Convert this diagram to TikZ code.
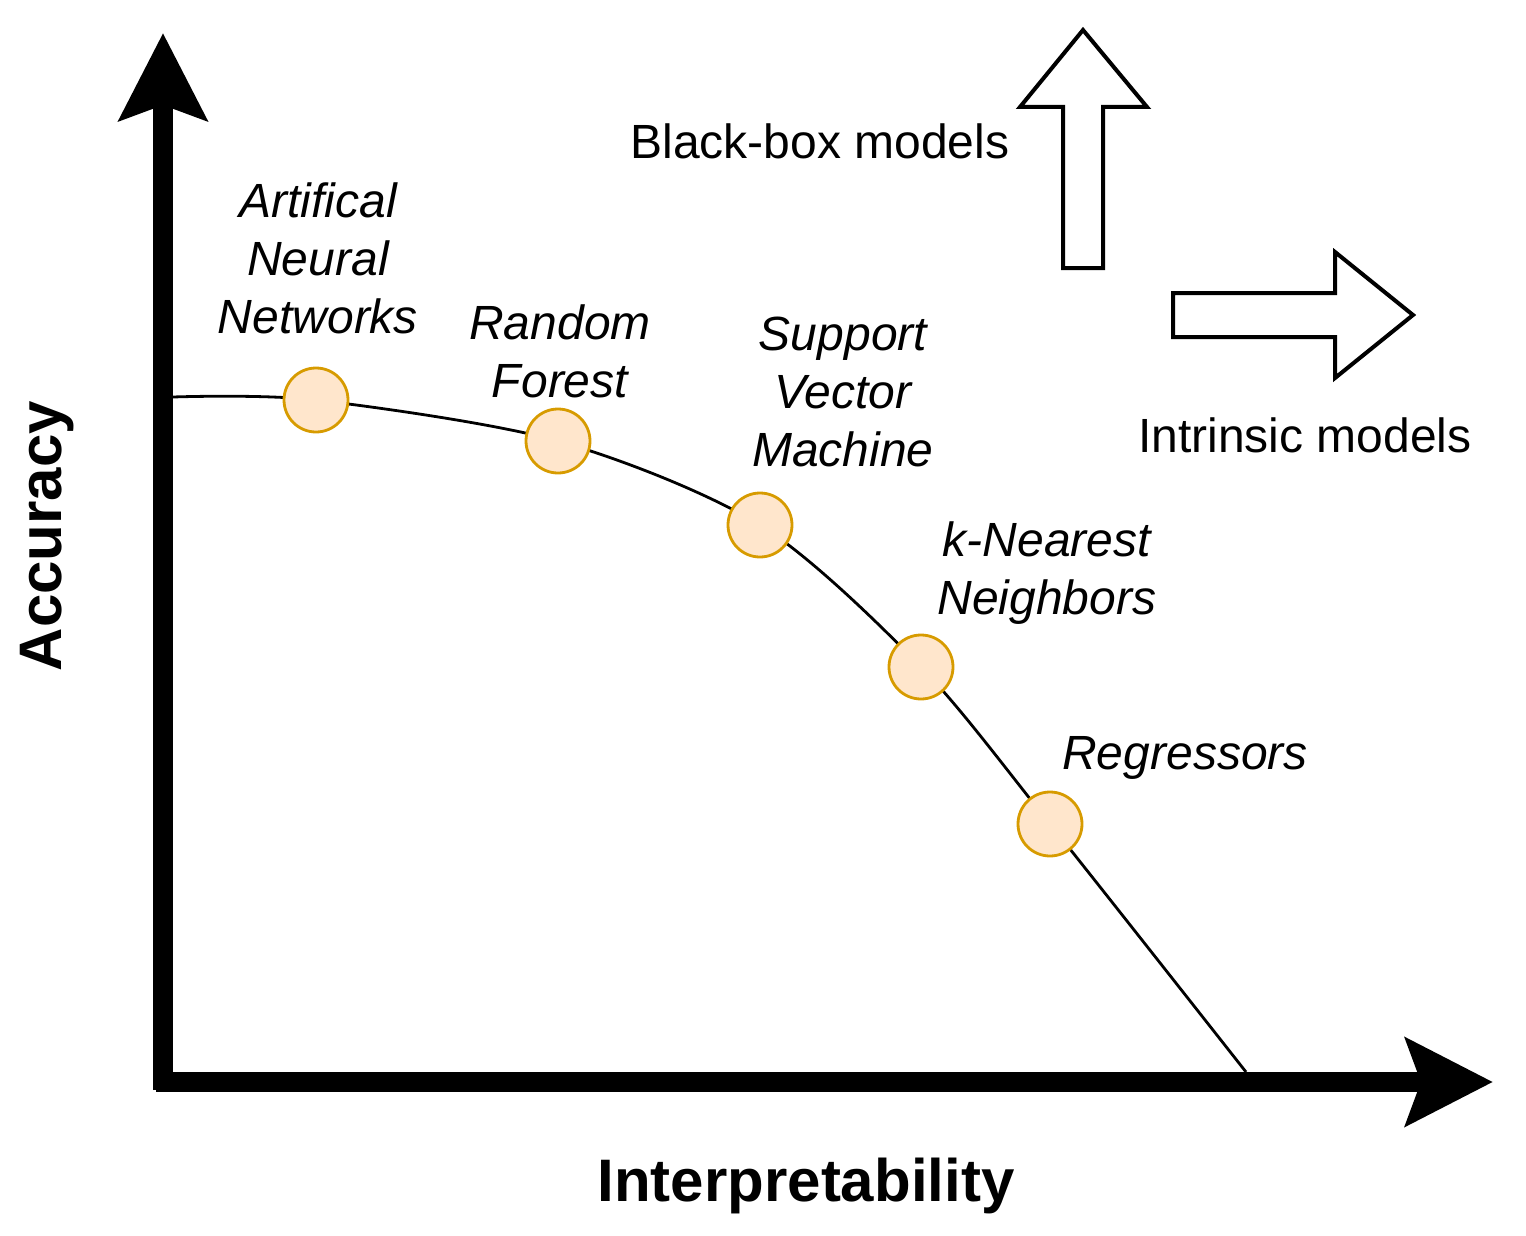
\documentclass[tikz,border=0pt]{standalone}
\usepackage{fontspec}
\setmainfont{Liberation Sans}
\usetikzlibrary{arrows.meta}
\definecolor{dotfill}{HTML}{FFE6CC}
\definecolor{dotline}{HTML}{D79B00}
\begin{document}
\begin{tikzpicture}[x=0.5pt,y=-0.5pt,
  axis/.style={line width=10pt,-{Stealth[length=43.5pt,width=43.5pt,inset=7.5pt]}},
  dot/.style={circle,draw=dotline,fill=dotfill,line width=1.4pt,minimum size=32pt,inner sep=0pt},
  lbl/.style={font=\fontsize{24}{29}\selectfont\itshape,align=center,inner sep=0pt},
  plain/.style={font=\fontsize{24}{29}\selectfont,align=center,inner sep=0pt},
  axlabel/.style={font=\fontsize{30}{36}\selectfont\bfseries,inner sep=0pt},
  bigarrow/.style={draw,line width=2pt,fill=white,line join=miter}]
\useasboundingbox (0,0) rectangle (1526,1236);
% axes
\coordinate (O) at (163,1082);
\coordinate (ytip) at (163,33);
\coordinate (xtip) at (1493,1082);
\coordinate (ybot) at (163,1090);
\coordinate (xstart) at (156,1082);
\draw[axis] (ybot) -- (ytip);
\draw[axis] (xstart) -- (xtip);
% curve
\coordinate (c0) at (173,397);
\coordinate (p1) at (316,400);
\coordinate (p2) at (558,441);
\coordinate (p3) at (760,525);
\coordinate (p4) at (921,667);
\coordinate (p5) at (1050,824);
\coordinate (c6) at (1246,1072);
\draw[line width=1.4pt] plot[smooth,tension=0.5] coordinates {(c0) (p1) (p2) (p3) (p4) (p5) (c6)};
\node[dot] (ann) at (p1) {};
\node[dot] (rf) at (p2) {};
\node[dot] (svm) at (p3) {};
\node[dot] (knn) at (p4) {};
\node[dot] (reg) at (p5) {};
% labels
\node[lbl] (annl) at (318,258) {Artifical\\Neural\\Networks};
\node[lbl] (rfl) at (560,351) {Random\\Forest};
\node[lbl] (svml) at (843,392) {Support\\Vector\\Machine};
\node[lbl] (knnl) at (1047,573) {\textit{k}-Nearest\\Neighbors};
\node[lbl] (regl) at (1185,758) {Regressors};
\node[plain] (bbl) at (820,141) {Black-box models};
\node[plain] (intl) at (1305,435) {Intrinsic models};
\node[axlabel] (xl) at (806,1186) {Interpretability};
\node[axlabel,rotate=90] (yl) at (47,536) {Accuracy};
% outline arrows
\draw[bigarrow] (1063,268) -- (1063,107) -- (1020,107) -- (1083,30) -- (1147,107) -- (1103,107) -- (1103,268) -- cycle;
\draw[bigarrow] (1173,293) -- (1335,293) -- (1335,252) -- (1413,315) -- (1335,378) -- (1335,337) -- (1173,337) -- cycle;
\end{tikzpicture}
\end{document}
